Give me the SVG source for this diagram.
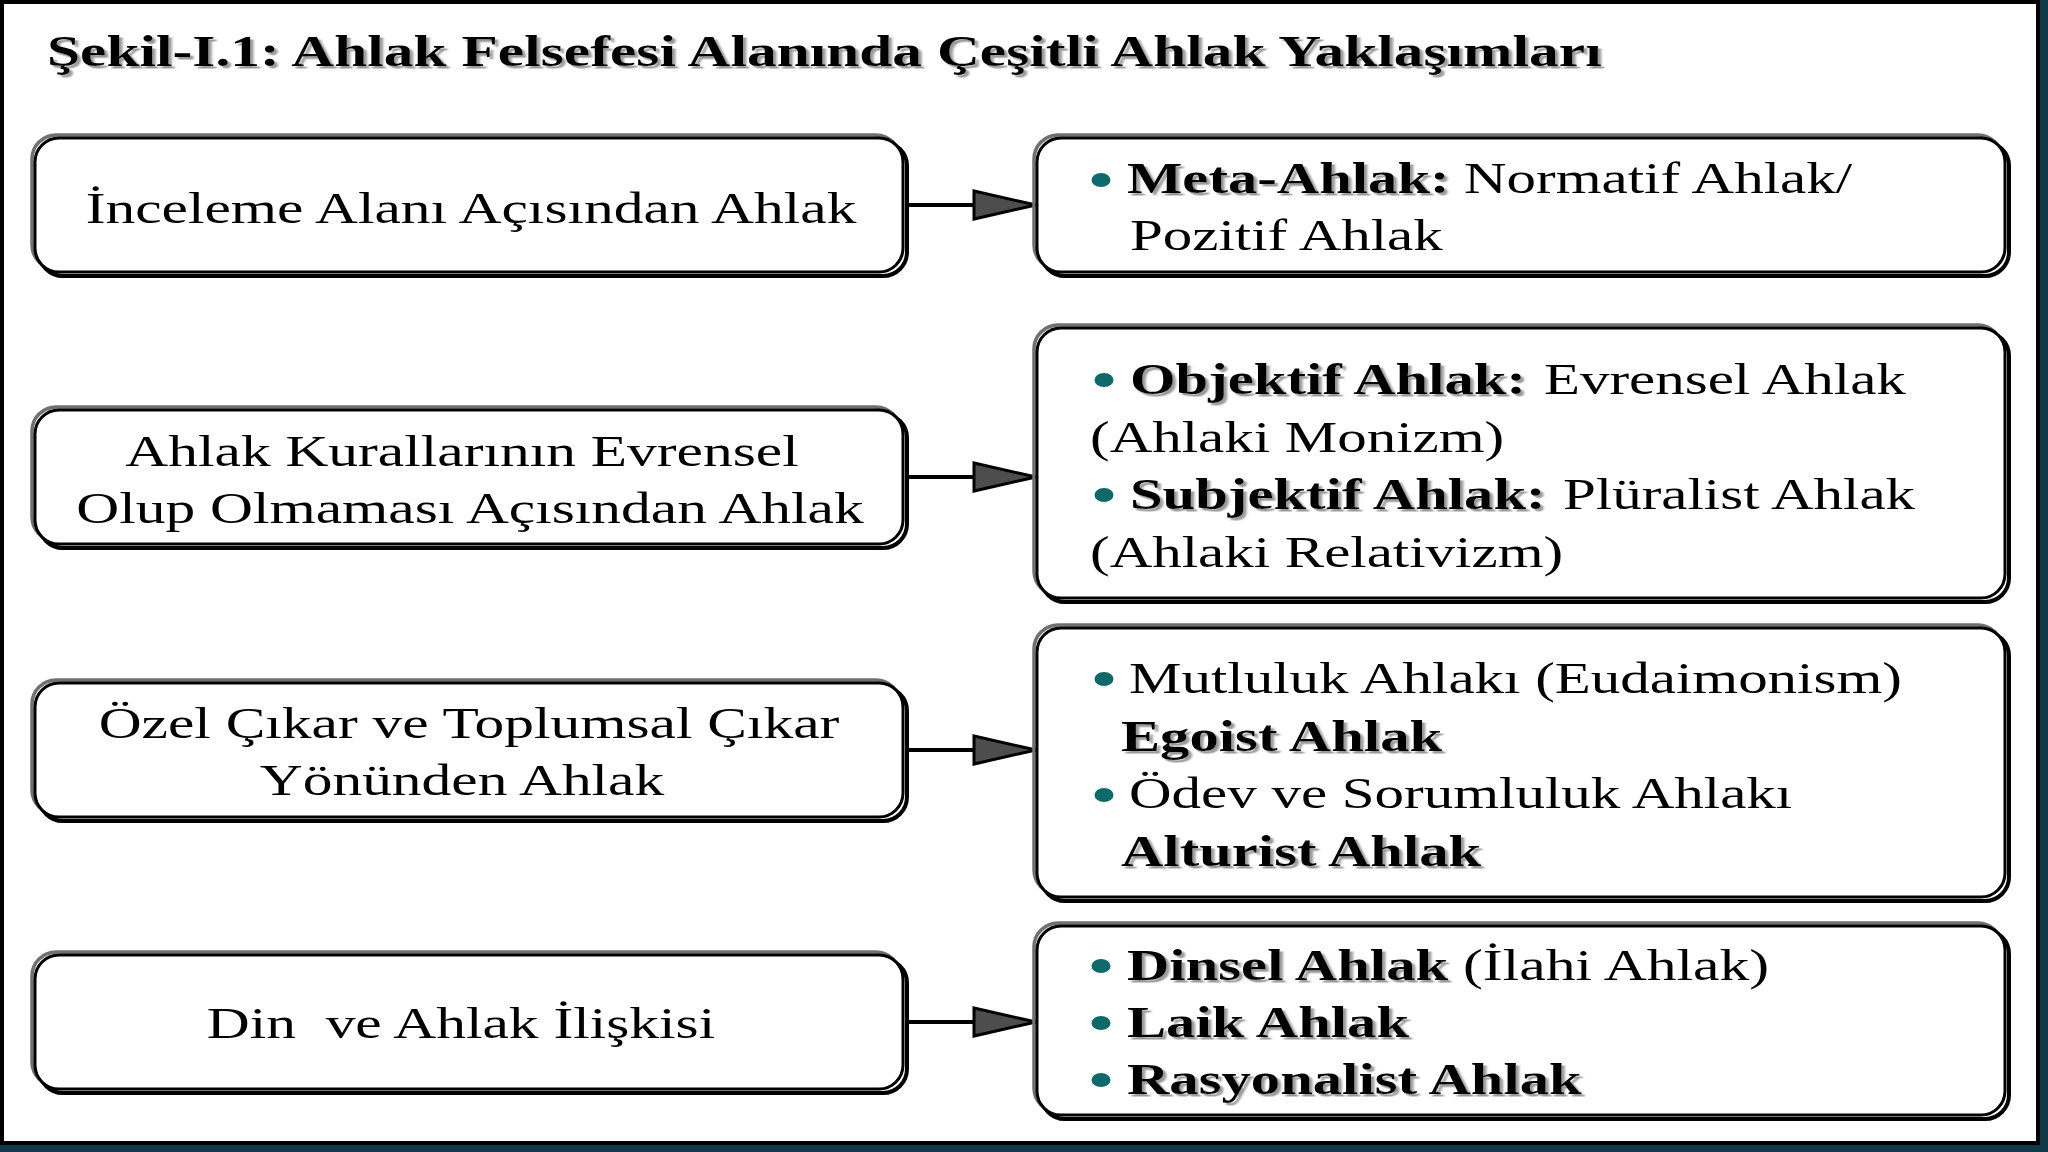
<svg xmlns="http://www.w3.org/2000/svg" width="2048" height="1152" viewBox="0 0 2048 1152">
  <defs>
    <style>
      .t { font-family: "Liberation Serif", "Times New Roman", serif; font-size: 44px; fill: #000; }
      .b { font-weight: bold; filter: url(#tshadow); }
      .m { text-anchor: middle; }
      .g { fill: none; stroke: #707070; stroke-width: 3.5; }
      .k { fill: none; stroke: #000; stroke-width: 4; }
      .box { fill: #fff; stroke: #000; stroke-width: 3; }
      .dot { fill: #0e6a6a; }
      .conn { stroke: #000; stroke-width: 4; fill: none; marker-end: url(#arrow); }
    </style>
    <filter id="tshadow" x="-5%" y="-20%" width="110%" height="150%">
      <feDropShadow dx="2.5" dy="2.5" stdDeviation="0.6" flood-color="#9a9a9a" flood-opacity="1"/>
    </filter>
    <marker id="arrow" markerUnits="userSpaceOnUse" viewBox="-3 -3 68 34" markerWidth="68" markerHeight="34" refX="62" refY="14" orient="auto" overflow="visible">
      <path d="M0,0 L62,14 L0,28 Z" fill="#4d4d4d" stroke="#000" stroke-width="3" stroke-linejoin="miter"/>
    </marker>
  </defs>

  <rect x="0" y="0" width="2048" height="1152" fill="#10394a"/>
  <rect x="2" y="2" width="2036" height="1141" fill="#ffffff" stroke="#000" stroke-width="4"/>

  <g id="title">
    <text class="t b" transform="translate(47 66) scale(1.351 1)">Şekil-I.1: Ahlak Felsefesi Alanında Çeşitli Ahlak Yaklaşımları</text>
  </g>

  <g id="connectors">
    <path class="conn" d="M906,205 H1036"/>
    <path class="conn" d="M906,477 H1036"/>
    <path class="conn" d="M906,750 H1036"/>
    <path class="conn" d="M906,1022 H1036"/>
  </g>

  <g id="left1">
    <rect class="g" x="32" y="135" width="868" height="134" rx="24"/>
    <rect class="k" x="39" y="142" width="868" height="134" rx="24"/>
    <rect class="box" x="35" y="138" width="868" height="134" rx="24"/>
    <text class="t m" transform="translate(471 223) scale(1.351 1)">İnceleme Alanı Açısından Ahlak</text>
  </g>

  <g id="left2">
    <rect class="g" x="32" y="407" width="868" height="134" rx="24"/>
    <rect class="k" x="39" y="414" width="868" height="134" rx="24"/>
    <rect class="box" x="35" y="410" width="868" height="134" rx="24"/>
    <text class="t m" transform="translate(462 466) scale(1.351 1)">Ahlak Kurallarının Evrensel</text>
    <text class="t m" transform="translate(470 523) scale(1.351 1)">Olup Olmaması Açısından Ahlak</text>
  </g>

  <g id="left3">
    <rect class="g" x="32" y="680" width="868" height="134" rx="24"/>
    <rect class="k" x="39" y="687" width="868" height="134" rx="24"/>
    <rect class="box" x="35" y="683" width="868" height="134" rx="24"/>
    <text class="t m" transform="translate(469 738) scale(1.351 1)">Özel Çıkar ve Toplumsal Çıkar</text>
    <text class="t m" transform="translate(462 795) scale(1.351 1)">Yönünden Ahlak</text>
  </g>

  <g id="left4">
    <rect class="g" x="32" y="952" width="868" height="134" rx="24"/>
    <rect class="k" x="39" y="959" width="868" height="134" rx="24"/>
    <rect class="box" x="35" y="955" width="868" height="134" rx="24"/>
    <text class="t m" xml:space="preserve" transform="translate(461 1038) scale(1.351 1)">Din  ve Ahlak İlişkisi</text>
  </g>

  <g id="right1">
    <rect class="g" x="1034" y="135" width="968" height="134" rx="24"/>
    <rect class="k" x="1041" y="142" width="968" height="134" rx="24"/>
    <rect class="box" x="1037" y="138" width="968" height="134" rx="24"/>
    <ellipse class="dot" cx="1101" cy="180" rx="9.5" ry="7"/>
    <text class="t b" transform="translate(1127 193) scale(1.3333 1)">Meta-Ahlak:</text>
    <text class="t" transform="translate(1464 193) scale(1.34 1)">Normatif Ahlak/</text>
    <text class="t" transform="translate(1130 250) scale(1.34 1)">Pozitif Ahlak</text>
  </g>

  <g id="right2">
    <rect class="g" x="1034" y="325" width="968" height="270" rx="24"/>
    <rect class="k" x="1041" y="332" width="968" height="270" rx="24"/>
    <rect class="box" x="1037" y="328" width="968" height="270" rx="24"/>
    <ellipse class="dot" cx="1104" cy="380" rx="9.5" ry="7"/>
    <text class="t b" transform="translate(1130 394) scale(1.3333 1)">Objektif Ahlak:</text>
    <text class="t" transform="translate(1544 394) scale(1.34 1)">Evrensel Ahlak</text>
    <text class="t" transform="translate(1090 452) scale(1.34 1)">(Ahlaki Monizm)</text>
    <ellipse class="dot" cx="1104" cy="495" rx="9.5" ry="7"/>
    <text class="t b" transform="translate(1130 509) scale(1.3333 1)">Subjektif Ahlak:</text>
    <text class="t" transform="translate(1563 509) scale(1.34 1)">Plüralist Ahlak</text>
    <text class="t" transform="translate(1090 567) scale(1.34 1)">(Ahlaki Relativizm)</text>
  </g>

  <g id="right3">
    <rect class="g" x="1034" y="625" width="968" height="269" rx="24"/>
    <rect class="k" x="1041" y="632" width="968" height="269" rx="24"/>
    <rect class="box" x="1037" y="628" width="968" height="269" rx="24"/>
    <ellipse class="dot" cx="1104" cy="679" rx="9.5" ry="7"/>
    <text class="t" transform="translate(1129 693) scale(1.34 1)">Mutluluk Ahlakı (Eudaimonism)</text>
    <text class="t b" transform="translate(1121 751) scale(1.3333 1)">Egoist Ahlak</text>
    <ellipse class="dot" cx="1104" cy="795" rx="9.5" ry="7"/>
    <text class="t" transform="translate(1129 808) scale(1.34 1)">Ödev ve Sorumluluk Ahlakı</text>
    <text class="t b" transform="translate(1121 866) scale(1.3333 1)">Alturist Ahlak</text>
  </g>

  <g id="right4">
    <rect class="g" x="1034" y="923" width="968" height="189" rx="24"/>
    <rect class="k" x="1041" y="930" width="968" height="189" rx="24"/>
    <rect class="box" x="1037" y="926" width="968" height="189" rx="24"/>
    <ellipse class="dot" cx="1101" cy="966" rx="9.5" ry="7"/>
    <text class="t b" transform="translate(1127 980) scale(1.3333 1)">Dinsel Ahlak</text>
    <text class="t" transform="translate(1463 980) scale(1.355 1)">(İlahi Ahlak)</text>
    <ellipse class="dot" cx="1101" cy="1023" rx="9.5" ry="7"/>
    <text class="t b" transform="translate(1127 1037) scale(1.3333 1)">Laik Ahlak</text>
    <ellipse class="dot" cx="1101" cy="1080" rx="9.5" ry="7"/>
    <text class="t b" transform="translate(1127 1094) scale(1.3333 1)">Rasyonalist Ahlak</text>
  </g>
</svg>
